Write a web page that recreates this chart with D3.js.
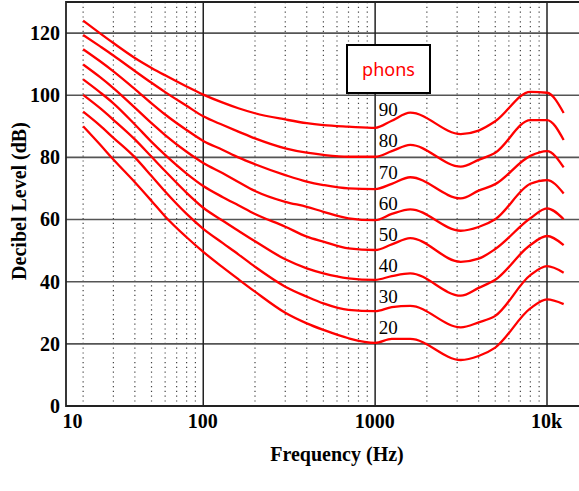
<!DOCTYPE html>
<html>
<head>
<meta charset="utf-8">
<script src="https://cdn.jsdelivr.net/npm/d3@7"></script>
<style>
  body { margin: 0; background: #fff; }
  .tick text { font-family: "Liberation Serif", serif; font-weight: bold; font-size: 20px; fill: #000; }
</style>
</head>
<body>
<div id="svg-container"></div>
<script>
const freqs = [20, 25, 30, 40, 50, 60, 80, 100, 130, 160, 200, 300, 400, 500, 700, 1000, 1250, 1600, 3150, 4000, 5000, 8000, 10000, 12500];

// sound pressure level (dB) for each loudness level
const phon90 = [124, 120, 116.8, 112, 108.8, 106.4, 102.8, 100.2, 97.6, 95.8, 94.2, 92.2, 91, 90.4, 89.9, 89.5, 91.8, 94.4, 87.5, 88.6, 91.6, 101.1, 100.8, 94.3];
const phon80 = [119.4, 115.8, 112.8, 107.8, 104, 101, 96.6, 93.2, 90.4, 88.3, 86.1, 82.9, 81.5, 80.8, 80.2, 80.2, 82, 84, 77, 79.2, 81.5, 92, 92, 85.6];
const phon70 = [114.8, 111, 107.7, 102, 97.4, 93.8, 88.8, 85.3, 82.4, 80, 77.8, 74.3, 72.2, 71.1, 70, 69.8, 71.5, 73.6, 66.8, 69.3, 71.4, 80.5, 82, 76.8];
const phon60 = [109.9, 105.9, 102.3, 96, 91, 87.2, 81.8, 78.2, 74.9, 72.1, 69.2, 65.7, 64.1, 62.5, 60.4, 59.8, 61.8, 63.3, 56.4, 57.6, 60.1, 71.5, 72.7, 68.4];
const phon50 = [105.1, 101, 97.4, 90.6, 85, 80.8, 74.8, 70.8, 67.2, 64.6, 61.8, 57.7, 54.5, 52.9, 50.7, 50.2, 52, 54, 46.4, 47.4, 50.5, 60.4, 63.6, 60.1];
const phon40 = [100.1, 95.9, 92.1, 85.8, 80.2, 75.6, 68.6, 63.8, 59.6, 56.4, 53, 47.2, 44.3, 42.7, 41.1, 40.6, 41.8, 42.7, 35.5, 38, 40.6, 51.8, 54.7, 51.8];
const phon30 = [94.7, 90.3, 86.3, 80, 74, 69, 61.8, 57, 52.4, 48.8, 44.8, 38.4, 35.2, 33, 30.9, 30.5, 31.8, 32.2, 25.3, 26.9, 29, 42.1, 45, 42.9];
const phon20 = [90, 84.2, 79.3, 72, 66, 61, 54.3, 49.6, 44.6, 40.8, 36.8, 30, 26.6, 24.5, 21.8, 20.3, 21.6, 21.6, 14.8, 16.1, 18.8, 31.4, 34.3, 32.8];

const phonLevels = [90, 80, 70, 60, 50, 40, 30, 20];
const phonSeries = [phon90, phon80, phon70, phon60, phon50, phon40, phon30, phon20];

const yTicks = [0, 20, 40, 60, 80, 100, 120];
const xTicks = [15.9, 100, 1000, 10000];
const xTickLabels = ["10", "100", "1000", "10k"];
const minorFreqs = [20, 30, 40, 50, 60, 70, 80, 90, 200, 300, 400, 500, 600, 700, 800, 900,
                    2000, 3000, 4000, 5000, 6000, 7000, 8000, 9000];

const W = 579, H = 491;
const plotL = 66, plotR = 580, plotT = 2, plotB = 406;

var x = d3.scaleLog().domain([15.9, 10000]).range([plotL, 547]);
var y = d3.scaleLinear().domain([0, 130]).range([plotB, plotT]);

var svg = d3.select('#svg-container').append('svg')
  .attr('width', W)
  .attr('height', H);

// dotted minor verticals
svg.append('g').selectAll('line')
  .data(minorFreqs)
  .enter()
  .append('line')
  .attr('x1', d => x(d)).attr('x2', d => x(d))
  .attr('y1', plotT).attr('y2', plotB)
  .attr('stroke', '#444')
  .attr('stroke-width', 1.2)
  .attr('stroke-dasharray', '1.2,3.6');

// horizontal grid
svg.append('g').selectAll('line')
  .data(yTicks.slice(1))
  .enter()
  .append('line')
  .attr('x1', plotL).attr('x2', plotR)
  .attr('y1', d => y(d)).attr('y2', d => y(d))
  .attr('stroke', '#555')
  .attr('stroke-width', 1.6);

// decade verticals
svg.append('g').selectAll('line')
  .data([100, 1000, 10000])
  .enter()
  .append('line')
  .attr('x1', d => x(d)).attr('x2', d => x(d))
  .attr('y1', plotT).attr('y2', plotB)
  .attr('stroke', '#222')
  .attr('stroke-width', 1.5);

// frame
svg.append('path')
  .attr('d', `M${plotR},${plotT} H${plotL} V${plotB} H${plotR}`)
  .attr('fill', 'none')
  .attr('stroke', '#222')
  .attr('stroke-width', 1.8);

// curves
var line = d3.line()
  .x((d, i) => x(freqs[i]))
  .y(d => y(d))
  .curve(d3.curveMonotoneX);

svg.append('g').selectAll('path')
  .data(phonSeries)
  .enter()
  .append('path')
  .attr('d', d => line(d))
  .attr('fill', 'none')
  .attr('stroke', '#ff0000')
  .attr('stroke-width', 2.3)
  .attr('stroke-linejoin', 'round');

// phon labels next to 1 kHz
svg.append('g').selectAll('text')
  .data(phonLevels)
  .enter()
  .append('text')
  .text(d => d)
  .attr('x', x(1050))
  .attr('y', d => y(d + 3.2))
  .attr('font-family', '"Liberation Serif", serif')
  .attr('font-size', '19px')
  .attr('fill', '#000');

// legend box
svg.append('rect')
  .attr('x', 347).attr('y', 45)
  .attr('width', 83).attr('height', 48)
  .attr('fill', '#fff')
  .attr('stroke', '#000')
  .attr('stroke-width', 2);
svg.append('text')
  .text('phons')
  .attr('x', 388.5).attr('y', 76)
  .attr('text-anchor', 'middle')
  .attr('font-family', '"Noto Sans", sans-serif')
  .attr('font-size', '18px')
  .attr('fill', '#ff0000');

// axes
var yAxis = svg.append('g')
  .attr('transform', `translate(${plotL - 6},0)`)
  .call(d3.axisLeft(y).tickValues(yTicks).tickSize(0).tickPadding(0));
yAxis.select('.domain').remove();

var xAxis = svg.append('g')
  .attr('transform', `translate(0,${plotB})`)
  .call(d3.axisBottom(x).tickValues(xTicks).tickSize(0).tickPadding(8)
    .tickFormat((d, i) => xTickLabels[i]));
xAxis.select('.domain').remove();
xAxis.selectAll('.tick text').attr('dx', (d, i) => i == 0 ? 6 : -1);

// titles
svg.append('text')
  .text('Frequency (Hz)')
  .attr('x', 337).attr('y', 461)
  .attr('text-anchor', 'middle')
  .attr('font-family', '"Liberation Serif", serif')
  .attr('font-weight', 'bold')
  .attr('font-size', '20px');

svg.append('text')
  .text('Decibel Level (dB)')
  .attr('transform', 'translate(26,201) rotate(-90)')
  .attr('text-anchor', 'middle')
  .attr('font-family', '"Liberation Serif", serif')
  .attr('font-weight', 'bold')
  .attr('font-size', '20px');
</script>
</body>
</html>
